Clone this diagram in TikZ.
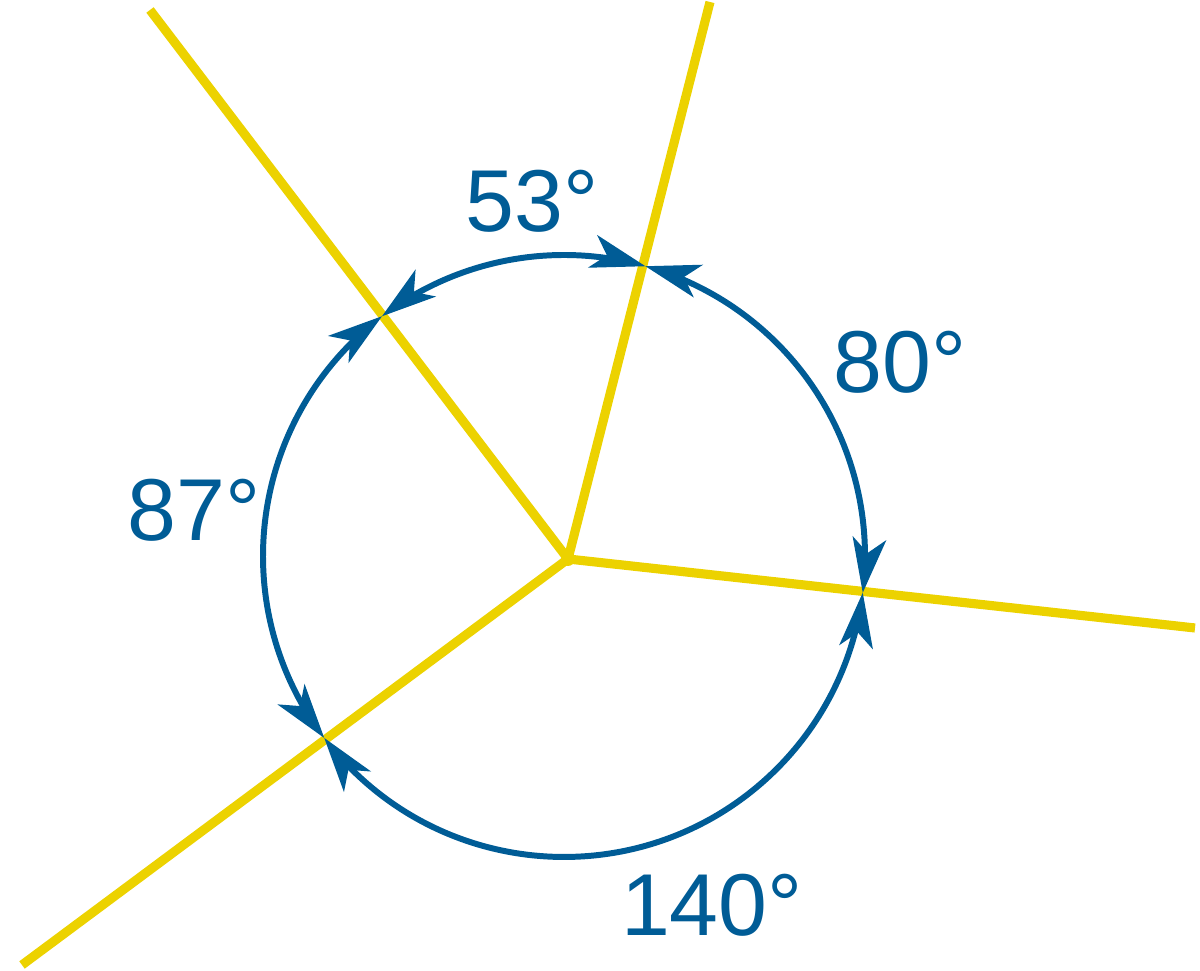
\documentclass[tikz,border=0pt]{standalone}
\usepackage{fontspec}
\setmainfont{Liberation Sans}
\usetikzlibrary{arrows.meta,decorations.markings}
\definecolor{rayyellow}{RGB}{236,210,0}
\definecolor{arcblue}{RGB}{0,92,150}

\begin{document}
\begin{tikzpicture}[
	ray/.style={rayyellow,line width=2.6pt},
	angarc/.style={arcblue,line width=1.7pt},
	arctips/.style={arcblue,postaction={decorate},
		decoration={markings,
			mark=at position 0 with {\arrowreversed{Stealth[length=5.5mm,width=3.4mm,inset=1.5mm]}},
			mark=at position 0.9999 with {\arrow{Stealth[length=5.5mm,width=3.4mm,inset=1.5mm]}}}},
	deg/.style={arcblue,inner sep=0pt,font=\fontsize{25}{30}\selectfont}]
		\useasboundingbox (-5.68,-4.12) rectangle (6.32,5.59);
		\coordinate (o) at (0,0);
		\coordinate (c) at (-0.04,0.03);
		\coordinate (ul) at (-4.18,5.49);
		\coordinate (ur) at (1.42,5.57);
		\coordinate (r) at (6.27,-0.69);
		\coordinate (ll) at (-5.46,-4.06);

		\draw [ray] (o) to (ul); % UL
		\draw [ray] (o) to (ur); % UR
		\draw [ray] (o) to (r); % R
		\draw [ray] (o) to (ll); % LL
		\fill [rayyellow] (o) circle [radius=0.07];

		% arcs, stopped short of the tips
		\draw [angarc] ([shift={(-2:3.01)}]c) arc [start angle=-2,end angle=69.3,radius=3.01];
		\draw [angarc] ([shift={(79.3:3.01)}]c) arc [start angle=79.3,end angle=122.2,radius=3.01];
		\draw [angarc] ([shift={(132.2:3.01)}]c) arc [start angle=132.2,end angle=212.2,radius=3.01];
		\draw [angarc] ([shift={(222.2:3.01)}]c) arc [start angle=222.2,end angle=348,radius=3.01];

		% tips
		\path [arctips] ([shift={(-7:3.01)}]c) arc [start angle=-7,end angle=74.3,radius=3.01];
		\path [arctips] ([shift={(74.3:3.01)}]c) arc [start angle=74.3,end angle=127.2,radius=3.01];
		\path [arctips] ([shift={(127.2:3.01)}]c) arc [start angle=127.2,end angle=217.2,radius=3.01];
		\path [arctips] ([shift={(217.2:3.01)}]c) arc [start angle=217.2,end angle=353,radius=3.01];

		\node [deg] (l53) at (-0.36,3.58) {53°};
		\node [deg] (l80) at (3.32,1.97) {80°};
		\node [deg] (l87) at (-3.74,0.49) {87°};
		\node [deg] (l140) at (1.44,-3.46) {140°};
\end{tikzpicture}
\end{document}
